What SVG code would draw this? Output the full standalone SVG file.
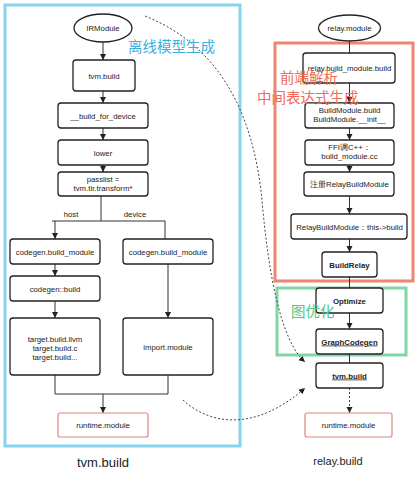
<svg xmlns="http://www.w3.org/2000/svg" width="418" height="481" viewBox="0 0 418 481">
<style>
.box{fill:#fff;stroke:#222;stroke-width:1.3}
.rbox{fill:#fff;stroke:#d98884;stroke-width:1.2}
.t{font-family:"Liberation Sans",Arial,sans-serif;font-size:7.8px;fill:#222;text-anchor:middle}
.b{font-weight:bold}
.u{text-decoration:underline}
.c{fill:none;stroke:#333;stroke-width:1}
.d{fill:none;stroke:#444;stroke-width:1;stroke-dasharray:2 2}
.zh{font-family:"Noto Sans CJK SC",sans-serif;font-size:14.5px}
.lbl{font-family:"Liberation Sans",Arial,sans-serif;fill:#222;text-anchor:middle}
</style>
<defs>
<marker id="a" markerUnits="userSpaceOnUse" markerWidth="7" markerHeight="7" refX="6" refY="3" orient="auto">
<path d="M0,0 L6,3 L0,6 z" fill="#222"/>
</marker>
</defs>
<rect width="418" height="481" fill="#fff"/>
<g id="panels">
<rect x="5" y="5" width="235" height="441" fill="none" stroke="#86d3ec" stroke-width="3"/>
<rect x="275" y="43" width="138" height="238" fill="none" stroke="#f08475" stroke-width="3"/>
<rect x="277" y="288" width="129" height="67" fill="none" stroke="#80d6a4" stroke-width="3"/>
</g>
<g id="connectors">
<path class="c" d="M103,42 V60" marker-end="url(#a)"/>
<path class="c" d="M103,91 V103" marker-end="url(#a)"/>
<path class="c" d="M103,128 V140" marker-end="url(#a)"/>
<path class="c" d="M103,165 V172" marker-end="url(#a)"/>
<path class="c" d="M101,196 V221 M52,221 H165 V239"/>
<path class="c" d="M55,221 V239" marker-end="url(#a)"/>
<path class="c" d="M55,264 V276" marker-end="url(#a)"/>
<path class="c" d="M55,301 V318" marker-end="url(#a)"/>
<path class="c" d="M168,264 V318" marker-end="url(#a)"/>
<path class="c" d="M55,375 V394 H168 V375"/>
<path class="c" d="M103,394 V413" marker-end="url(#a)"/>
<path class="c" d="M349.5,41 V53"/>
<path class="c" d="M349.5,83 V103" marker-end="url(#a)"/>
<path class="c" d="M349.5,128 V140" marker-end="url(#a)"/>
<path class="c" d="M349.5,165 V172" marker-end="url(#a)"/>
<path class="c" d="M349.5,196 V214" marker-end="url(#a)"/>
<path class="c" d="M349.5,239 V252" marker-end="url(#a)"/>
<path class="c" d="M349.5,277 V288"/>
<path class="c" d="M349.5,313 V329" marker-end="url(#a)"/>
<path class="c" d="M349.5,354 V363"/>
<path class="d" d="M349.5,388 V413" marker-end="url(#a)"/>
<path class="d" d="M145,16 C230,50 255,130 262,200 C268,270 280,340 305,362" marker-end="url(#a)"/>
<path class="d" d="M183,400 C210,425 255,432 305,388" marker-end="url(#a)"/>
</g>
<g id="irmodule"><ellipse cx="103" cy="28" rx="29" ry="14" fill="#fff" stroke="#222" stroke-width="1.3"/><text class="t" x="103" y="31">IRModule</text></g>
<g id="tvmbuild"><rect class="box" x="73" y="60" width="62" height="31" rx="3"/><text class="t" x="104" y="78.5">tvm.build</text></g>
<g id="buildfordevice"><rect class="box" x="58" y="103" width="90" height="25" rx="3"/><text class="t" x="103" y="118.5">__build_for_device</text></g>
<g id="lower"><rect class="box" x="58" y="140" width="90" height="25" rx="3"/><text class="t" x="103" y="155.5">lower</text></g>
<g id="passlist"><rect class="box" x="58" y="172" width="90" height="24" rx="3"/><text class="t" x="103" y="182">passlist =</text><text class="t" x="103" y="191">tvm.tir.transform*</text></g>
<g id="labels-split"><text class="t" x="71" y="217">host</text><text class="t" x="135" y="217">device</text></g>
<g id="codegen-host"><rect class="box" x="10" y="239" width="90" height="25" rx="3"/><text class="t" x="55" y="254.5">codegen.build_module</text></g>
<g id="codegen-device"><rect class="box" x="123" y="239" width="90" height="25" rx="3"/><text class="t" x="168" y="254.5">codegen.build_module</text></g>
<g id="codegen-build"><rect class="box" x="10" y="276" width="90" height="25" rx="3"/><text class="t" x="55" y="291.5">codegen::build</text></g>
<g id="target-build"><rect class="box" x="10" y="318" width="90" height="57" rx="3"/><text class="t" x="55" y="342">target.build.llvm</text><text class="t" x="55" y="351">target.build.c</text><text class="t" x="55" y="360">target.build...</text></g>
<g id="import-module"><rect class="box" x="123" y="318" width="90" height="57" rx="3"/><text class="t" x="168" y="350">import.module</text></g>
<g id="runtime-left"><rect class="rbox" x="58" y="413" width="90" height="24" rx="2"/><text class="t" x="103" y="428">runtime.module</text></g>
<g id="relaymodule"><ellipse cx="349.5" cy="28" rx="31" ry="13" fill="#fff" stroke="#222" stroke-width="1.3"/><text class="t" x="349.5" y="31">relay.module</text></g>
<g id="relaybuild"><rect class="box" x="303" y="53" width="92" height="30" rx="3"/><text class="t" x="349.5" y="71">relay.build_module.build</text></g>
<g id="buildmodule"><rect class="box" x="305" y="103" width="89" height="25" rx="3"/><text class="t" x="349.5" y="113">BuildModule.build</text><text class="t" x="349.5" y="122">BuildModule.__init__</text></g>
<g id="ffi"><rect class="box" x="305" y="140" width="89" height="25" rx="3"/><text class="t" x="349.5" y="150">FFI调C++：</text><text class="t" x="349.5" y="159">build_module.cc</text></g>
<g id="register"><rect class="box" x="304" y="172" width="90" height="24" rx="3"/><text class="t" x="349.5" y="187">注册RelayBuildModule</text></g>
<g id="relaybuildmodule"><rect class="box" x="291" y="214" width="116" height="25" rx="3"/><text class="t" x="349.5" y="229.5">RelayBuildModule：this-&gt;build</text></g>
<g id="buildrelay"><rect class="box" x="322" y="252" width="55" height="25" rx="3"/><text class="t b" x="349.5" y="267.5">BuildRelay</text></g>
<g id="optimize"><rect class="box" x="316" y="288" width="67" height="25" rx="3"/><text class="t b" x="349.5" y="303.5">Optimize</text></g>
<g id="graphcodegen"><rect class="box" x="316" y="329" width="67" height="25" rx="3"/><text class="t b u" x="349.5" y="344.5">GraphCodegen</text></g>
<g id="tvmbuild-right"><rect class="box" x="316" y="363" width="67" height="25" rx="3" stroke-width="1.8"/><text class="t b u" x="349.5" y="378.5">tvm.build</text></g>
<g id="runtime-right"><rect class="rbox" x="305" y="413" width="87" height="24" rx="2"/><text class="t" x="348.5" y="428">runtime.module</text></g>
<g id="annotations">
<text class="zh" x="128" y="52" fill="#3bb0de">离线模型生成</text>
<text class="zh" x="280" y="83" fill="#f06b5a">前端解析</text>
<text class="zh" x="257" y="103" fill="#f06b5a">中间表达式生成</text>
<text class="zh" x="291" y="317" fill="#4cc985">图优化</text>
<text class="lbl" x="103" y="467" font-size="13">tvm.build</text>
<text class="lbl" x="338" y="465" font-size="11">relay.build</text>
</g>
</svg>
